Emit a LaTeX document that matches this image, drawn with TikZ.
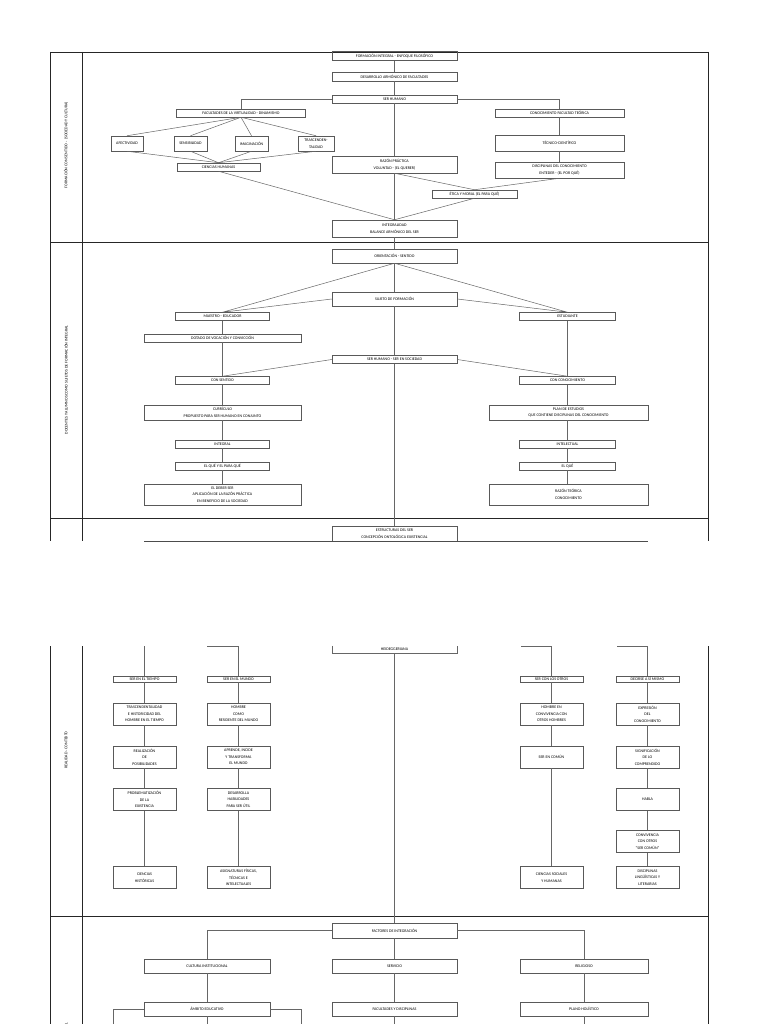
\documentclass[tikz,border=0pt]{standalone}
\usepackage{fontspec}
\setmainfont{Carlito}
\begin{document}
\begin{tikzpicture}[x=1pt,y=-1pt,
  bx/.style={draw=black!65,line width=0.5pt,inner sep=0pt,align=center,font=\fontsize{4}{6.5}\selectfont},
  frm/.style={line width=0.9pt,black!85},
  ln/.style={line width=0.5pt,black!60},
  side/.style={rotate=90,font=\fontsize{4}{5}\selectfont,inner sep=0pt}]
\useasboundingbox (0,0) rectangle (768,1024);
\clip (0,0) rectangle (768,1024);
\fill[white] (0,0) rectangle (768,1024);
% frames
\draw[frm] (50,52)--(708,52);
\draw[frm] (50,52)--(50,541) (82,52)--(82,541) (708,52)--(708,541);
\draw[frm] (50,242)--(708,242) (50,518)--(708,518);
\draw[frm] (50,646)--(50,1030) (82,646)--(82,1030) (708,646)--(708,1030);
\draw[frm] (50,916)--(708,916);
\node[side] (l1) at (66,145) {FORMACIÓN CON SENTIDO \ - (SOCIEDAD Y CULTURA)};
\node[side] (l2) at (66,380) {DOCENTES Y ALUMNOS COMO SUJETOS DE FORMACIÓN INTEGRAL};
\node[side] (l3) at (66,750) {REALIDAD - CONTEXTO};
\node[side] (l4) at (66,1042) {FORMACIÓN INTEGRAL};
% section 1
\node[bx,minimum width=125,minimum height=9] (f1) at (394.5,56) {FORMACIÓN INTEGRAL - ENFOQUE FILOSÓFICO};
\node[bx,minimum width=125,minimum height=9] (f2) at (394.5,76.5) {DESARROLLO ARMÓNICO DE FACULTADES};
\node[bx,minimum width=125,minimum height=8] (f3) at (394.5,99) {SER HUMANO};
\node[bx,minimum width=129,minimum height=8] (fv) at (241,113) {FACULTADES DE LA VIRTUALIDAD - DINAMISMO};
\node[bx,minimum width=129,minimum height=8] (ct) at (559.5,113) {CONOCIMIENTO FACULTAD TEÓRICA};
\node[bx,minimum width=32,minimum height=15] (af) at (127,143.5) {AFECTIVIDAD};
\node[bx,minimum width=33,minimum height=15] (se) at (190.5,143.5) {SENSIBILIDAD};
\node[bx,minimum width=33,minimum height=15] (im) at (251.5,143.5) {IMAGINACIÓN};
\node[bx,minimum width=36,minimum height=15] (tr) at (316,143.5) {TRASCENDEN-\\TALIDAD};
\node[bx,minimum width=129,minimum height=16] (tc) at (559.5,143) {TÉCNICO-CIENTÍFICO};
\node[bx,minimum width=83,minimum height=8] (ch) at (218.5,167) {CIENCIAS HUMANAS};
\node[bx,minimum width=125,minimum height=17] (rp) at (394.5,164.5) {RAZÓN PRÁCTICA\\VOLUNTAD - (EL QUERER)};
\node[bx,minimum width=129,minimum height=16] (dc) at (559.5,170) {DISCIPLINAS DEL CONOCIMIENTO\\ENTEDER - (EL POR QUÉ)};
\node[bx,minimum width=85,minimum height=8] (em) at (474.5,194) {ÉTICA Y MORAL (EL PARA QUÉ)};
\node[bx,minimum width=125,minimum height=17] (ig) at (394.5,228.5) {INTEGRALIDAD\\BALANCE ARMÓNICO DEL SER};
\draw[ln] (f1)--(f2) (f2)--(f3) (f3)--(rp) (rp)--(ig);
\draw[ln] (f3.west)-|(fv.north) (f3.east)-|(ct.north);
\foreach \n in {af,se,im,tr}{\draw[ln] (fv.south)--(\n.north) (\n.south)--(ch.north);}
\draw[ln] (ct)--(tc) (tc)--(dc);
\draw[ln] (ch.south)--(ig.north) (rp.south)--(em.north) (dc.south)--(em.north) (em.south)--(ig.north);
% section 2
\node[bx,minimum width=125,minimum height=14] (os) at (394.5,256) {ORIENTACIÓN - SENTIDO};
\node[bx,minimum width=125,minimum height=14] (sf) at (394.5,299) {SUJETO DE FORMACIÓN};
\node[bx,minimum width=94,minimum height=8] (me) at (222.5,316.5) {MAESTRO - EDUCADOR};
\node[bx,minimum width=96,minimum height=8] (es) at (567.5,316.5) {ESTUDIANTE};
\node[bx,minimum width=157,minimum height=8] (do) at (222.5,338) {DOTADO DE VOCACIÓN Y CONVICCIÓN};
\node[bx,minimum width=125,minimum height=8] (sh) at (394.5,359.5) {SER HUMANO - SER EN SOCIEDAD};
\node[bx,minimum width=94,minimum height=8] (cs) at (222.5,380.5) {CON SENTIDO};
\node[bx,minimum width=96,minimum height=8] (cc) at (567.5,380.5) {CON CONOCIMIENTO};
\node[bx,minimum width=157,minimum height=15] (cu) at (222.5,412.5) {CURRÍCULO\\PROPUESTO PARA SER HUMANO EN CONJUNTO};
\node[bx,minimum width=159,minimum height=15] (pe) at (568.5,412.5) {PLAN DE ESTUDIOS\\QUE CONTIENE DISCIPLINAS DEL CONOCIMIENTO};
\node[bx,minimum width=94,minimum height=8] (in) at (222.5,444) {INTEGRAL};
\node[bx,minimum width=96,minimum height=8] (il) at (567.5,444) {INTELECTUAL};
\node[bx,minimum width=94,minimum height=8] (qp) at (222.5,466) {EL QUÉ Y EL PARA QUÉ};
\node[bx,minimum width=96,minimum height=8] (eq) at (567.5,466) {EL QUÉ};
\node[bx,minimum width=157,minimum height=21] (ds) at (222.5,494.5) {EL DEBER SER\\APLICACIÓN DE LA RAZÓN PRÁCTICA\\EN BENEFICIO DE LA SOCIEDAD};
\node[bx,minimum width=159,minimum height=21] (rt) at (568.5,494.5) {RAZÓN TEÓRICA\\CONOCIMIENTO};
\draw[ln] (ig)--(os) (os)--(sf) (sf)--(sh);
\draw[ln] (os.south)--(me.north) (os.south)--(es.north) (sf.west)--(me.north) (sf.east)--(es.north);
\draw[ln] (sh.west)--(cs.north) (sh.east)--(cc.north);
\draw[ln] (me)--(do) (do)--(cs) (cs)--(cu) (cu)--(in) (in)--(qp) (qp)--(ds);
\draw[ln] (es)--(cc) (cc)--(pe.north-|cc) (pe.south-|il)--(il) (il)--(eq) (eq)--(rt.north-|eq);
% section 3
\node[bx,minimum width=125,minimum height=15] (sr) at (394.5,533.5) {ESTRUCTURAS DEL SER\\CONCEPCIÓN ONTOLÓGICA EXISTENCIAL};
\draw[ln] (sh)--(sr);
\draw[line width=0.7pt,black!70] (144,541)--(648,541);
\node[bx,draw=none,minimum width=125,minimum height=7] (hd) at (394.5,649.5) {HEIDEGGERIANA};
\draw[ln] (hd.north west)--(hd.south west)--(hd.south east)--(hd.north east);
\foreach \c/\x in {t/144.5,m/238.5,o/551.5,d/647.5}{
  \node[bx,minimum width=63,minimum height=6] (\c1) at (\x,679) {};}
\node[bx,minimum width=63,minimum height=6] at (t1) {SER EN EL TIEMPO};
\node[bx,minimum width=63,minimum height=6] at (m1) {SER EN EL MUNDO};
\node[bx,minimum width=63,minimum height=6] at (o1) {SER CON LOS OTROS};
\node[bx,minimum width=63,minimum height=6] at (d1) {DECIRSE A SÍ MISMO};
\tikzset{cb/.style={bx,minimum width=63,minimum height=22}}
\node[cb] (t2) at (144.5,714) {TRASCENDENTALIDAD\\E HISTORICIDAD DEL\\HOMBRE EN EL TIEMPO};
\node[cb] (t3) at (144.5,757) {REALIZACIÓN\\DE\\POSIBILIDADES};
\node[cb] (t4) at (144.5,799.5) {PROBLEMATIZACIÓN\\DE LA\\EXISTENCIA};
\node[cb] (t5) at (144.5,877.5) {CIENCIAS\\HISTÓRICAS};
\node[cb] (m2) at (238.5,714) {HOMBRE\\COMO\\RESIDENTE DEL MUNDO};
\node[cb] (m3) at (238.5,757) {APRENDE, INCIDE\\Y TRANSFORMA\\EL MUNDO};
\node[cb] (m4) at (238.5,799.5) {DESARROLLA\\HABILIDADES\\PARA SER ÚTIL};
\node[cb] (m5) at (238.5,877.5) {ASIGNATURAS FÍSICAS,\\TÉCNICAS E\\INTELECTUALES};
\node[cb] (o2) at (551.5,714) {HOMBRE EN\\CONVIVENCIA CON\\OTROS HOMBRES};
\node[cb] (o3) at (551.5,757) {SER EN COMÚN};
\node[cb] (o5) at (551.5,877.5) {CIENCIAS SOCIALES\\Y HUMANAS};
\node[cb] (d2) at (647.5,714) {EXPRESIÓN\\DEL\\CONOCIMIENTO};
\node[cb] (d3) at (647.5,757) {SIGNIFICACIÓN\\DE LO\\COMPRENDIDO};
\node[cb] (d4) at (647.5,799.5) {HABLA};
\node[cb] (d5) at (647.5,841.5) {CONVIVENCIA\\CON OTROS\\``SER COMÚN''};
\node[cb] (d6) at (647.5,877.5) {DISCIPLINAS\\LINGÜÍSTICAS Y\\LITERARIAS};
\coordinate (tt) at (144.5,646); \coordinate (ms) at (207,646); \coordinate (mt) at (238.5,646);
\coordinate (os3) at (521,646); \coordinate (ot) at (551.5,646);
\coordinate (dsx) at (617,646); \coordinate (dt) at (647.5,646);
\draw[ln] (tt)--(t1) (t1)--(t2) (t2)--(t3) (t3)--(t4) (t4)--(t5);
\draw[ln] (ms)--(mt)--(m1) (m1)--(m2) (m2)--(m3) (m3)--(m4) (m4)--(m5);
\draw[ln] (os3)--(ot)--(o1) (o1)--(o2) (o2)--(o3) (o3)--(o5);
\draw[ln] (dsx)--(dt)--(d1) (d1)--(d2) (d2)--(d3) (d3)--(d4) (d4)--(d5) (d5)--(d6);
% section 4
\tikzset{fb/.style={bx,minimum height=14}}
\node[fb,minimum width=125,minimum height=15] (fi) at (394.5,930.5) {FACTORES DE INTEGRACIÓN};
\node[fb,minimum width=126] (ci) at (207,966) {CULTURA INSTITUCIONAL};
\node[fb,minimum width=125] (sv) at (394.5,966) {SERVICIO};
\node[fb,minimum width=128] (re) at (584,966) {RELIGIOSO};
\node[fb,minimum width=126] (ae) at (207,1009) {ÁMBITO EDUCATIVO};
\node[fb,minimum width=125] (fd) at (394.5,1009) {FACULTADES Y DISCIPLINAS};
\node[fb,minimum width=128] (ph) at (584,1009) {PLANO HOLÍSTICO};
\coordinate (b1) at (113,1030); \coordinate (b2) at (301,1030); \coordinate (b3) at (207,1030);
\coordinate (b4) at (394.5,1030); \coordinate (b5) at (584,1030);
\draw[ln] (hd)--(fi) (fi)--(sv) (sv)--(fd) (fd)--(b4);
\draw[ln] (fi.west)-|(ci.north) (fi.east)-|(re.north);
\draw[ln] (ci)--(ae) (ae)--(b3) (re)--(ph) (ph)--(b5);
\draw[ln] (ae.west)-|(b1) (ae.east)-|(b2);
\end{tikzpicture}
\end{document}
